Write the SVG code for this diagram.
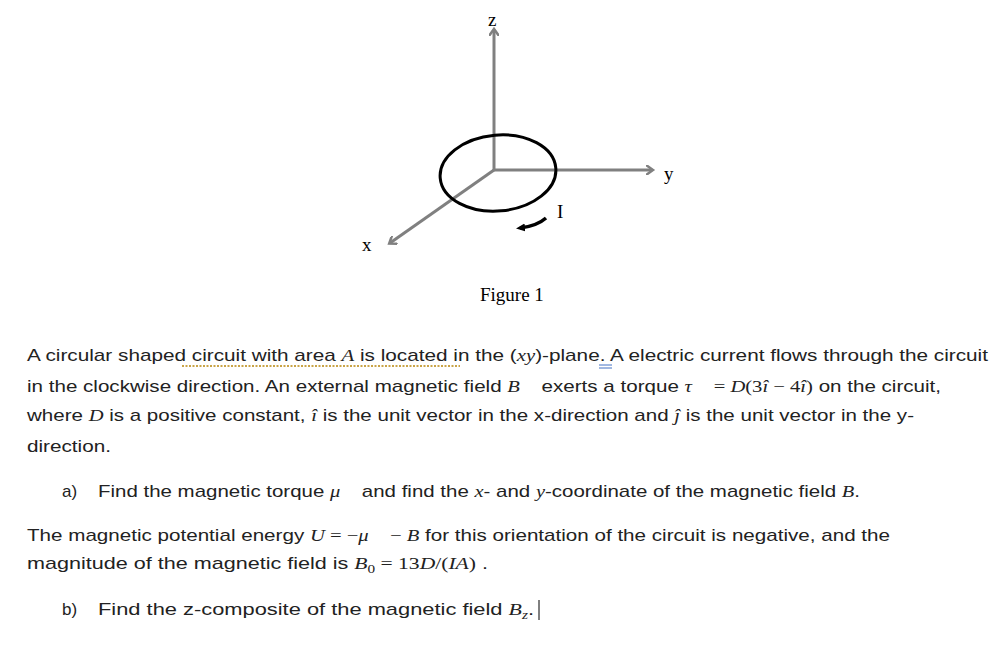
<svg xmlns="http://www.w3.org/2000/svg" width="1002" height="645" viewBox="0 0 1002 645">
<style>
.ax{stroke:#808080;stroke-width:3;fill:none}
.lb{font-family:"Liberation Serif",serif;font-size:19px;fill:#000}
.t{font-family:"Liberation Sans",Arial,sans-serif;font-size:17px;fill:#222}
.m{font-family:"Liberation Serif",serif;font-style:italic}
.r{font-family:"Liberation Serif",serif}
</style>
<defs>
<marker id="ah" markerWidth="10" markerHeight="10" refX="6" refY="5" orient="auto" markerUnits="userSpaceOnUse">
<path d="M0,0 L7,5 L0,10" fill="none" stroke="#808080" stroke-width="2.5"/>
</marker>
<marker id="bh" markerWidth="10" markerHeight="10" refX="5" refY="5" orient="auto" markerUnits="userSpaceOnUse">
<path d="M0,1 L9,5 L0,9 Z" fill="#000"/>
</marker>
</defs>
<rect width="1002" height="645" fill="#fff"/>
<g id="connectors">
<line class="ax" x1="494" y1="170" x2="494" y2="30" marker-end="url(#ah)"/>
<line class="ax" x1="494" y1="170" x2="652" y2="170" marker-end="url(#ah)"/>
<line class="ax" x1="494" y1="170" x2="390" y2="243" marker-end="url(#ah)"/>
</g>
<g id="loop">
<ellipse cx="498" cy="173" rx="58" ry="38" transform="rotate(-5 498 173)" fill="none" stroke="#000" stroke-width="3"/>
<path d="M546,218 Q537,226 520,228" fill="none" stroke="#000" stroke-width="3.5" marker-end="url(#bh)"/>
</g>
<text class="lb" x="488" y="26">z</text>
<text class="lb" x="664" y="180">y</text>
<text class="lb" x="362" y="251">x</text>
<text class="lb" x="557" y="218">I</text>
<text class="lb" x="480" y="301">Figure 1</text>
<text class="t" x="27" y="361" textLength="961" lengthAdjust="spacingAndGlyphs">A circular shaped circuit with area <tspan class="m">A</tspan> is located in the (<tspan class="m">xy</tspan>)-plane. A electric current flows through the circuit</text>
<line x1="182" y1="366" x2="460" y2="366" stroke="#b8860b" stroke-width="1.5" stroke-dasharray="2,1.5"/>
<line x1="599" y1="365" x2="612" y2="365" stroke="#4472c4" stroke-width="1"/>
<line x1="599" y1="368" x2="612" y2="368" stroke="#4472c4" stroke-width="1"/>
<text class="t" x="27" y="392" textLength="914" lengthAdjust="spacingAndGlyphs">in the clockwise direction. An external magnetic field <tspan class="m">B⃗</tspan> exerts a torque <tspan class="m">τ⃗</tspan> <tspan class="r">= </tspan><tspan class="m">D</tspan><tspan class="r">(3</tspan><tspan class="m">î</tspan><tspan class="r"> − 4</tspan><tspan class="m">î</tspan><tspan class="r">)</tspan> on the circuit,</text>
<text class="t" x="27" y="421" textLength="887" lengthAdjust="spacingAndGlyphs">where <tspan class="m">D</tspan> is a positive constant, <tspan class="m">î</tspan> is the unit vector in the x-direction and <tspan class="m">ĵ</tspan> is the unit vector in the y-</text>
<text class="t" x="27" y="452" textLength="84" lengthAdjust="spacingAndGlyphs">direction.</text>
<text class="t" x="62" y="497">a)</text>
<text class="t" x="98" y="497" textLength="762" lengthAdjust="spacingAndGlyphs">Find the magnetic torque  <tspan class="m">μ⃗</tspan> and find the <tspan class="m">x</tspan>- and <tspan class="m">y</tspan>-coordinate of the magnetic field <tspan class="m">B</tspan>.</text>
<text class="t" x="27" y="541" textLength="863" lengthAdjust="spacingAndGlyphs">The magnetic potential energy <tspan class="m">U</tspan><tspan class="r"> = −</tspan><tspan class="m">μ⃗</tspan><tspan class="r"> − </tspan><tspan class="m">B</tspan> for this orientation of the circuit is negative, and the</text>
<text class="t" x="27" y="569" textLength="461" lengthAdjust="spacingAndGlyphs">magnitude of the magnetic field is <tspan class="m">B</tspan><tspan class="r" font-size="12" dy="4">0</tspan><tspan class="r" dy="-4"> = 13</tspan><tspan class="m">D</tspan><tspan class="r">/(</tspan><tspan class="m">IA</tspan><tspan class="r">)</tspan> .</text>
<text class="t" x="62" y="615">b)</text>
<text class="t" x="98" y="615" textLength="436" lengthAdjust="spacingAndGlyphs">Find the z-composite of the magnetic field <tspan class="m">B</tspan><tspan class="m" font-size="12" dy="4">z</tspan><tspan dy="-4">.</tspan></text>
<line x1="539" y1="600" x2="539" y2="620" stroke="#000" stroke-width="1"/>
</svg>
